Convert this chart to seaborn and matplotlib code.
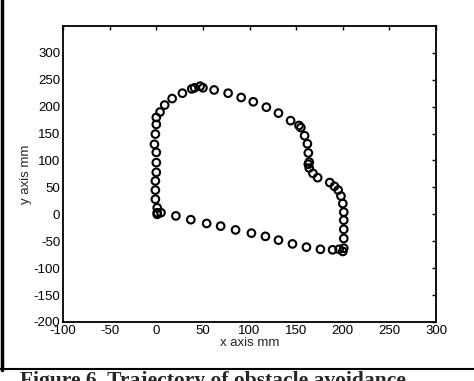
import matplotlib
matplotlib.use("Agg")
import matplotlib.pyplot as plt
from matplotlib.lines import Line2D
import seaborn as sns

# trajectory points (mm)
x_mm = [1, 5, 21, 37, 54, 69, 85, 102, 117, 131, 146, 161, 176, 189, 196, 200,
        201, 201, 201, 201, 201, 200, 198, 195, 191, 186, 173, 168, 164, 163,
        164, 163, 162, 159, 155, 153, 144, 131, 118, 104, 91, 77, 62, 50, 47,
        41, 38, 28, 17, 9, 4, 0, 0, -1, -2, 0, 0, 0, -1, -1, -1, 1, 1]
y_mm = [0, 3, -3, -10, -17, -22, -29, -35, -41, -48, -55, -61, -65, -66, -65, -69,
        -63, -45, -28, -11, 4, 20, 34, 45, 52, 59, 68, 76, 86, 93,
        97, 114, 131, 146, 161, 165, 174, 188, 199, 209, 217, 225, 231, 235, 238,
        235, 233, 225, 215, 203, 190, 180, 167, 149, 130, 115, 96, 78, 62, 45, 28, 12, 3]

x_ticks = [-100, -50, 0, 50, 100, 150, 200, 250, 300]
y_ticks = [-200, -150, -100, -50, 0, 50, 100, 150, 200, 250, 300]

sns.set_style("white")
plt.rcParams["font.family"] = ["Liberation Sans", "DejaVu Sans"]
plt.rcParams["axes.unicode_minus"] = False

fig = plt.figure(figsize=(4.74, 3.81), dpi=100)
ax = fig.add_axes([0.133, 0.155, 0.787, 0.777])

sns.scatterplot(x=x_mm, y=y_mm, ax=ax, marker="o", s=30,
                facecolor="none", edgecolor="black", linewidth=1.5)

ax.set_xlim(-100, 300)
ax.set_ylim(-200, 350)
ax.set_xticks(x_ticks)
ax.set_yticks(y_ticks)
ax.tick_params(direction="in", length=3, width=1, top=True, right=True,
               labelsize=9.5, pad=2, colors="black")
for s in ax.spines.values():
    s.set_color("black")
    s.set_linewidth(1.3)

ax.set_xlabel("x axis mm", fontsize=9.5, labelpad=0)
ax.set_ylabel("y axis mm", fontsize=9.5, labelpad=1)

# page frame and caption from the scanned figure
fig.add_artist(Line2D([0.004, 0.004], [0.03, 1.0], color="black", linewidth=2.5))
fig.add_artist(Line2D([0.0, 1.0], [0.032, 0.032], color="black", linewidth=1.5))
fig.text(0.042, 0.026, "Figure 6. Trajectory of obstacle avoidance",
         fontsize=15.5, fontweight="bold", va="top", ha="left",
         family=["Liberation Serif", "DejaVu Serif"])

fig.savefig("out.png", dpi=100)
